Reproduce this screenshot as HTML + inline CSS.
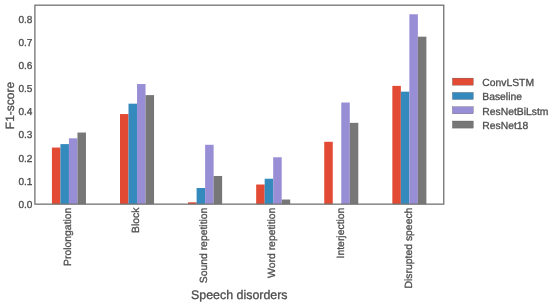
<!DOCTYPE html><html><head><meta charset="utf-8"><title>F1-score by speech disorder</title><style>html,body{margin:0;padding:0;background:#fff}body{width:550px;height:306px;overflow:hidden}</style></head><body><svg width="550" height="306" viewBox="0 0 550 306" style="display:block">
<rect x="0" y="0" width="550" height="306" fill="#fff"/>
<rect x="51.92" y="147.56" width="8.51" height="56.59" fill="#E24A33"/>
<rect x="60.43" y="144.09" width="8.51" height="60.06" fill="#348ABD"/>
<rect x="68.94" y="138.31" width="8.51" height="65.83" fill="#988ED5"/>
<rect x="77.45" y="132.54" width="8.51" height="71.61" fill="#777777"/>
<rect x="120.00" y="114.06" width="8.51" height="90.09" fill="#E24A33"/>
<rect x="128.51" y="103.67" width="8.51" height="100.48" fill="#348ABD"/>
<rect x="137.03" y="84.03" width="8.51" height="120.12" fill="#988ED5"/>
<rect x="145.54" y="95.12" width="8.51" height="109.03" fill="#777777"/>
<rect x="188.09" y="202.30" width="8.51" height="1.85" fill="#E24A33"/>
<rect x="196.60" y="187.98" width="8.51" height="16.17" fill="#348ABD"/>
<rect x="205.11" y="144.78" width="8.51" height="59.37" fill="#988ED5"/>
<rect x="213.62" y="175.97" width="8.51" height="28.18" fill="#777777"/>
<rect x="256.17" y="184.52" width="8.51" height="19.64" fill="#E24A33"/>
<rect x="264.68" y="178.74" width="8.51" height="25.41" fill="#348ABD"/>
<rect x="273.19" y="157.26" width="8.51" height="46.89" fill="#988ED5"/>
<rect x="281.70" y="199.53" width="8.51" height="4.62" fill="#777777"/>
<rect x="324.25" y="141.78" width="8.51" height="62.37" fill="#E24A33"/>
<rect x="341.27" y="102.51" width="8.51" height="101.64" fill="#988ED5"/>
<rect x="349.79" y="122.84" width="8.51" height="81.31" fill="#777777"/>
<rect x="392.34" y="85.88" width="8.51" height="118.27" fill="#E24A33"/>
<rect x="400.85" y="91.65" width="8.51" height="112.50" fill="#348ABD"/>
<rect x="409.36" y="14.27" width="8.51" height="189.88" fill="#988ED5"/>
<rect x="417.87" y="36.68" width="8.51" height="167.47" fill="#777777"/>
<rect x="34.9" y="5.2" width="408.85" height="198.95000000000002" fill="none" stroke="#727272" stroke-width="1.3"/>
<g font-family="Liberation Sans, Arial, sans-serif" fill="#4d4d4d" stroke="#4d4d4d" stroke-width="0.3" text-rendering="geometricPrecision">
<text x="32.5" y="207.75" font-size="10.1" text-anchor="end">0.0</text>
<text x="32.5" y="184.65" font-size="10.1" text-anchor="end">0.1</text>
<text x="32.5" y="161.55" font-size="10.1" text-anchor="end">0.2</text>
<text x="32.5" y="138.45" font-size="10.1" text-anchor="end">0.3</text>
<text x="32.5" y="115.35" font-size="10.1" text-anchor="end">0.4</text>
<text x="32.5" y="92.25" font-size="10.1" text-anchor="end">0.5</text>
<text x="32.5" y="69.15" font-size="10.1" text-anchor="end">0.6</text>
<text x="32.5" y="46.05" font-size="10.1" text-anchor="end">0.7</text>
<text x="32.5" y="22.95" font-size="10.1" text-anchor="end">0.8</text>
<text transform="translate(71.24,207.6) rotate(-90)" font-size="10.4" text-anchor="end">Prolongation</text>
<text transform="translate(139.33,207.6) rotate(-90)" font-size="10.4" text-anchor="end">Block</text>
<text transform="translate(207.41,207.6) rotate(-90)" font-size="10.4" text-anchor="end">Sound repetition</text>
<text transform="translate(275.49,207.6) rotate(-90)" font-size="10.4" text-anchor="end">Word repetition</text>
<text transform="translate(343.57,207.6) rotate(-90)" font-size="10.4" text-anchor="end">Interjection</text>
<text transform="translate(411.66,207.6) rotate(-90)" font-size="10.4" text-anchor="end">Disrupted speech</text>
<text transform="translate(14.0,105.5) rotate(-90)" font-size="12" text-anchor="middle">F1-score</text>
<text x="239.3" y="298.5" font-size="12.4" text-anchor="middle">Speech disorders</text>
<rect x="452.4" y="78.10" width="20.9" height="7.1" fill="#E24A33"/>
<text x="482.3" y="86.10" font-size="10.35">ConvLSTM</text>
<rect x="452.4" y="92.40" width="20.9" height="7.1" fill="#348ABD"/>
<text x="482.3" y="100.40" font-size="10.35">Baseline</text>
<rect x="452.4" y="106.70" width="20.9" height="7.1" fill="#988ED5"/>
<text x="482.3" y="114.70" font-size="10.35">ResNetBiLstm</text>
<rect x="452.4" y="121.00" width="20.9" height="7.1" fill="#777777"/>
<text x="482.3" y="129.00" font-size="10.35">ResNet18</text>
</g></svg></body></html>
